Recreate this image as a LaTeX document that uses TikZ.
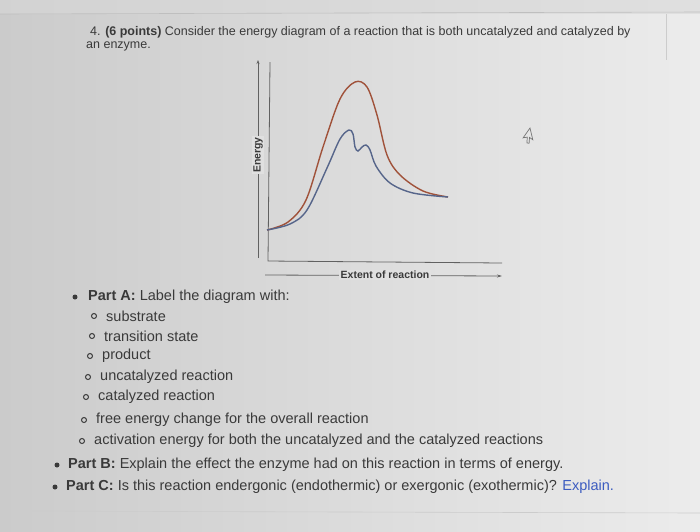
\documentclass[tikz,border=0pt]{standalone}
\usepackage{fontspec}
\setmainfont{Liberation Sans}
\usetikzlibrary{arrows.meta}
\definecolor{bgL}{HTML}{CBCBCB}
\definecolor{bgR}{HTML}{ECECEC}
\definecolor{ink}{HTML}{3A3A3A}
\definecolor{uncat}{HTML}{A0523A}
\definecolor{cat}{HTML}{56658A}
\definecolor{linkblue}{HTML}{3C5CC0}
\tikzset{
  txt/.style={anchor=west, inner sep=0pt, text=ink, font=\fontsize{14.5}{16}\selectfont},
  toptxt/.style={anchor=west, inner sep=0pt, text=ink, font=\fontsize{12.5}{14}\selectfont},
  bul/.style={circle, fill=ink, inner sep=0pt, minimum size=5pt},
  sub/.style={circle, draw=ink, line width=1pt, inner sep=0pt, minimum size=5pt},
  axis/.style={draw=ink!80, line width=0.8pt},
  axlab/.style={inner sep=1.5pt, fill=bgR!95!black, text=ink, font=\fontsize{10.5}{11}\selectfont\bfseries},
  curve/.style={line width=1.4pt, smooth, tension=0.55}
}
\begin{document}
\begin{tikzpicture}[x=1pt,y=-1pt]
\useasboundingbox (0,0) rectangle (700,531);
\shade[left color=bgL, right color=bgR] (0,0) rectangle (700,531);
\fill[bgL!60!bgR, opacity=0.6] (0,0) rectangle (700,14);
\draw[black!25, line width=0.6pt] (0,14) -- (700,12);
\draw[black!20, line width=0.6pt] (0,511) -- (700,513);
\draw[black!20, line width=0.6pt] (666,14) -- (666,60);

% question text
\node[toptxt] (q1) at (90,32) {4. \textbf{(6 points)} Consider the energy diagram of a reaction that is both uncatalyzed and catalyzed by};
\node[toptxt] (q2) at (86,46) {an enzyme.};

% axes
\coordinate (ybot) at (258,258);
\coordinate (ytop) at (258,60);
\draw[axis, -{Stealth[length=4pt,width=3pt]}] (ybot) -- (ytop);
\node[axlab, rotate=90] (elab) at (258,155) {Energy};
\coordinate (o) at (268,261);
\coordinate (vt) at (270,62);
\coordinate (hr) at (502,263);
\draw[axis] (vt) -- (o) -- (hr);
\coordinate (xl) at (265,275);
\coordinate (xr) at (502,276);
\draw[axis, -{Stealth[length=5pt,width=3pt]}] (xl) -- (xr);
\node[axlab] (xlab) at (385,275) {Extent of reaction};

% curves
\draw[curve, uncat] plot coordinates {(267,230) (288,222) (306,200) (323,147) (340,99) (355,82) (367,87) (377,115) (387,155) (400,175) (423,191) (448,197)};
\draw[curve, cat] plot coordinates {(267,230) (290,224) (307,210) (327,168) (340,139) (349,130) (353,134) (355,147) (358,151) (362,147) (366,145) (370,150) (376,166) (390,183) (413,193) (448,197)};

% cursor
\draw[ink!70, line width=0.7pt, fill=white!90!black, rotate around={-35:(530,128)}] (530,128) -- (530,140) -- (533,137) -- (536,142) -- (538,141) -- (535,136) -- (539,136) -- cycle;

% list
\node[bul] (b1) at (75,297) {};
\node[txt] (t1) at (88,297) {\textbf{Part A:} Label the diagram with:};
\node[sub] (s1) at (94,316) {};
\node[txt] (t2) at (106,316) {substrate};
\node[sub] (s2) at (92,336) {};
\node[txt] (t3) at (104,336) {transition state};
\node[sub] (s3) at (90,356) {};
\node[txt] (t4) at (102,356) {product};
\node[sub] (s4) at (88,377) {};
\node[txt] (t5) at (100,377) {uncatalyzed reaction};
\node[sub] (s5) at (86,397) {};
\node[txt] (t6) at (98,397) {catalyzed reaction};
\node[sub] (s6) at (84,420) {};
\node[txt] (t7) at (96,420) {free energy change for the overall reaction};
\node[sub] (s7) at (82,441) {};
\node[txt] (t8) at (94,441) {activation energy for both the uncatalyzed and the catalyzed reactions};
\node[bul] (b2) at (57,465) {};
\node[txt] (t9) at (68,465) {\textbf{Part B:} Explain the effect the enzyme had on this reaction in terms of energy.};
\node[bul] (b3) at (55,487) {};
\node[txt] (t10) at (66,487) {\textbf{Part C:} Is this reaction endergonic (endothermic) or exergonic (exothermic)? \textcolor{linkblue}{Explain.}};
\end{tikzpicture}
\end{document}
